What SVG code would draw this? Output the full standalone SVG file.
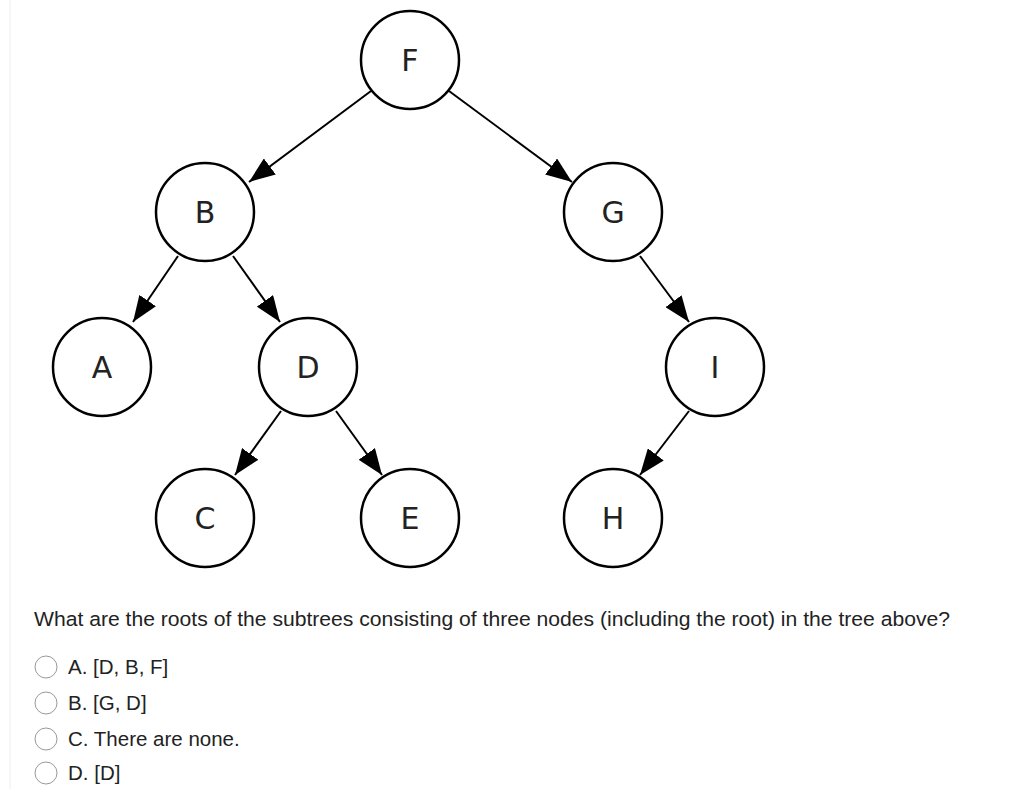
<svg xmlns="http://www.w3.org/2000/svg" width="1024" height="789" viewBox="0 0 1024 789">
<style>
.n circle{fill:#fff;stroke:#000;stroke-width:2.5}
.n text{font-family:"DejaVu Sans",sans-serif;font-size:30px;text-anchor:middle;fill:#222}
.e line{stroke:#000;stroke-width:2;marker-end:url(#ah)}
.q{font-family:"Liberation Sans",Arial,sans-serif;font-size:20.5px;fill:#222}
.r{fill:#fff;stroke:#999;stroke-width:1}
</style>
<defs><marker id="ah" markerWidth="26" markerHeight="20" refX="26" refY="10" orient="auto" markerUnits="userSpaceOnUse" viewBox="0 0 26 20"><path d="M0,0L26,10L0,20z" fill="#000"/></marker></defs>
<rect width="1024" height="789" fill="#fff"/>
<line x1="10" y1="0" x2="10" y2="789" stroke="#eee"/>
<g class="e">
<line x1="371" y1="91" x2="249" y2="182"/>
<line x1="449" y1="91" x2="572" y2="182"/>
<line x1="178" y1="256" x2="133" y2="322"/>
<line x1="233" y1="256" x2="280" y2="322"/>
<line x1="640" y1="256" x2="689" y2="322"/>
<line x1="281" y1="411" x2="235" y2="475"/>
<line x1="336" y1="411" x2="382" y2="475"/>
<line x1="689" y1="411" x2="640" y2="475"/>
</g>
<g id="F" class="n"><circle cx="410" cy="60" r="49"/><text x="410" y="71">F</text></g>
<g id="B" class="n"><circle cx="205" cy="212" r="49"/><text x="205" y="223">B</text></g>
<g id="G" class="n"><circle cx="613" cy="212" r="49"/><text x="613" y="223">G</text></g>
<g id="A" class="n"><circle cx="102" cy="367" r="49"/><text x="102" y="378">A</text></g>
<g id="D" class="n"><circle cx="308" cy="367" r="49"/><text x="308" y="378">D</text></g>
<g id="I" class="n"><circle cx="715" cy="367" r="49"/><text x="715" y="378">I</text></g>
<g id="C" class="n"><circle cx="205" cy="518" r="49"/><text x="205" y="529">C</text></g>
<g id="E" class="n"><circle cx="410" cy="518" r="49"/><text x="410" y="529">E</text></g>
<g id="H" class="n"><circle cx="613" cy="518" r="49"/><text x="613" y="529">H</text></g>
<text class="q" x="34" y="626" textLength="916" lengthAdjust="spacingAndGlyphs">What are the roots of the subtrees consisting of three nodes (including the root) in the tree above?</text>
<circle class="r" cx="46" cy="667" r="11"/><text class="q" x="68" y="674">A. [D, B, F]</text>
<circle class="r" cx="46" cy="703" r="11"/><text class="q" x="68" y="710">B. [G, D]</text>
<circle class="r" cx="46" cy="739" r="11"/><text class="q" x="68" y="746">C. There are none.</text>
<circle class="r" cx="46" cy="773" r="11"/><text class="q" x="68" y="780">D. [D]</text>
</svg>
